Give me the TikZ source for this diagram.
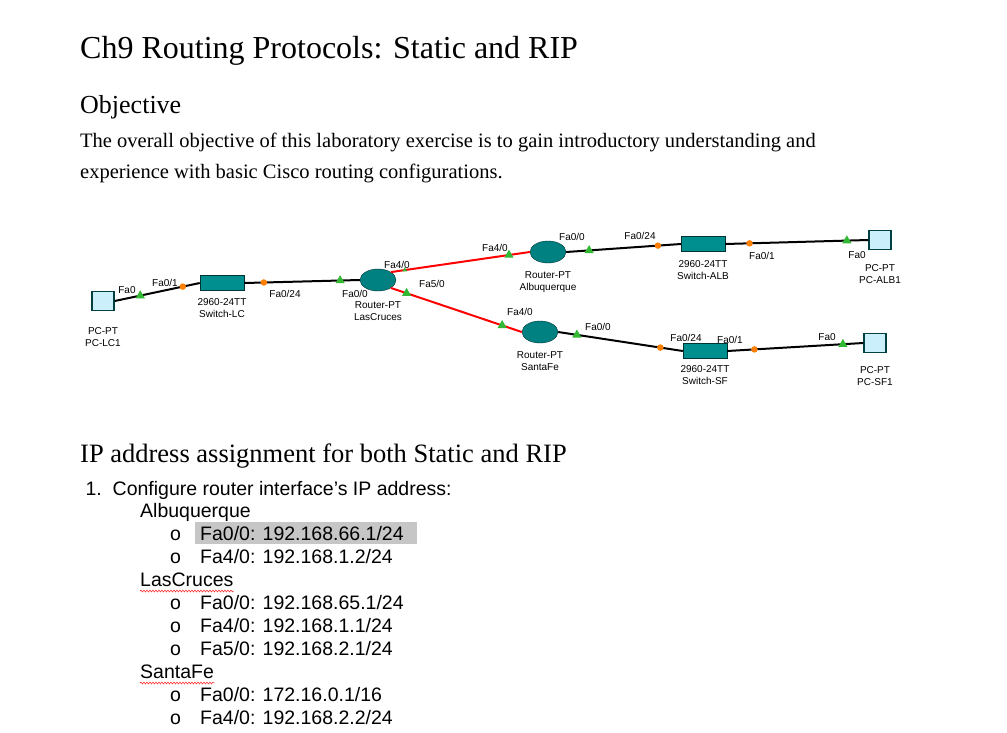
\documentclass[tikz,border=0pt]{standalone}
\usepackage{fontspec}
\setmainfont{Liberation Serif}
\setsansfont{Liberation Sans}
\usetikzlibrary{decorations.pathmorphing,shapes.geometric}
\begin{document}
\begin{tikzpicture}[x=1pt,y=-1pt,
  lbl/.style={font=\sffamily\fontsize{10}{10}\selectfont, inner sep=0},
  dev/.style={font=\sffamily\fontsize{10}{12}\selectfont, align=center, inner sep=0},
  router/.style={ellipse, minimum width=36pt, minimum height=22pt, fill=teal!55!cyan!70!black, draw=teal!40!black, inner sep=0},
  switch/.style={rectangle, minimum width=44pt, minimum height=15pt, fill=teal!50!cyan!75!black, draw=teal!40!black, inner sep=0},
  pc/.style={rectangle, minimum width=22pt, minimum height=19pt, fill=cyan!20!white, draw=teal!50!black, line width=1.4pt, inner sep=0},
  cable/.style={line width=2pt, black},
  xcable/.style={line width=2pt, red},
  up/.style={isosceles triangle, shape border rotate=90, isosceles triangle apex angle=60, fill=green!65!black!80, minimum size=8pt, inner sep=0},
  dot/.style={circle, fill=orange, minimum size=6.5pt, inner sep=0},
  body/.style={font=\fontsize{20.5}{22}\selectfont, anchor=base west, inner sep=0},
  list/.style={font=\sffamily\fontsize{19.5}{22}\selectfont, anchor=base west, inner sep=0}]
\useasboundingbox (0,0) rectangle (1007,732);
\fill[white] (0,0) rectangle (1007,732);
% headings
\node[anchor=base west, inner sep=0, font=\fontsize{32}{34}\selectfont] (t) at (80,58) {Ch9 Routing Protocols: Static and RIP};
\node[anchor=base west, inner sep=0, font=\fontsize{26}{28}\selectfont] (obj) at (80,113) {Objective};
\node[body] (b1) at (80,147) {The overall objective of this laboratory exercise is to gain introductory understanding and};
\node[body] (b2) at (80,178) {experience with basic Cisco routing configurations.};
\node[anchor=base west, inner sep=0, font=\fontsize{26.5}{28}\selectfont] (ip) at (80,462) {IP address assignment for both Static and RIP};
% list
\fill[gray!45] (195,522) rectangle (417,544);
\node[list] (l1) at (80,495) {\ 1.\ \ Configure router interface's IP address:};
\node[list] (alb) at (140,517) {Albuquerque};
\foreach \y/\t in {540/{Fa0/0: 192.168.66.1/24},563/{Fa4/0: 192.168.1.2/24},609/{Fa0/0: 192.168.65.1/24},632/{Fa4/0: 192.168.1.1/24},655/{Fa5/0: 192.168.2.1/24},701/{Fa0/0: 172.16.0.1/16},724/{Fa4/0: 192.168.2.2/24}}{
  \node[list] at (170,\y) {o};
  \node[list] at (200,\y) {\t};}
\node[list] (lc) at (140,586) {LasCruces};
\node[list] (sf) at (140,678) {SantaFe};
\draw[red, decorate, decoration={snake, amplitude=1pt, segment length=3pt}] (140,591) -- (234,591);
\draw[red, decorate, decoration={snake, amplitude=1pt, segment length=3pt}] (140,683) -- (215,683);
% devices
\node[pc] (pclc) at (103,301) {};
\node[switch] (swlc) at (222,283) {};
\node[router] (rlc) at (378,280) {};
\node[router] (ralb) at (548,252) {};
\node[switch] (swalb) at (703,244) {};
\node[pc] (pcalb) at (880,240) {};
\node[router] (rsf) at (540,332) {};
\node[switch] (swsf) at (705,351) {};
\node[pc] (pcsf) at (875,343) {};
% device labels
\node[dev] at (103,337) {PC-PT\\PC-LC1};
\node[dev] at (222,308) {2960-24TT\\Switch-LC};
\node[dev] at (378,311) {Router-PT\\LasCruces};
\node[dev] at (548,282) {Router-PT\\Albuquerque};
\node[dev] at (703,270) {2960-24TT\\Switch-ALB};
\node[dev] at (880,274) {PC-PT\\PC-ALB1};
\node[dev] at (540,361) {Router-PT\\SantaFe};
\node[dev] at (705,375) {2960-24TT\\Switch-SF};
\node[dev] at (875,376) {PC-PT\\PC-SF1};
% links
\draw[cable] (pclc.east) -- node[pos=0.3,up]{} node[pos=0.8,dot]{} (swlc.west);
\draw[cable] (swlc.east) -- node[pos=0.17,dot]{} node[pos=0.83,up]{} (rlc.west);
\draw[xcable] (rlc.north east) -- node[pos=0.1,up,minimum size=4pt]{} node[pos=0.85,up]{} (ralb.west);
\draw[xcable] (rlc.south east) -- node[pos=0.12,up]{} node[pos=0.85,up]{} (rsf.west);
\draw[cable] (ralb.east) -- node[pos=0.2,up]{} node[pos=0.8,dot]{} (swalb.west);
\draw[cable] (swalb.east) -- node[pos=0.17,dot]{} node[pos=0.85,up]{} (pcalb.west);
\draw[cable] (rsf.east) -- node[pos=0.15,up]{} node[pos=0.82,dot]{} (swsf.west);
\draw[cable] (swsf.east) -- node[pos=0.2,dot]{} node[pos=0.85,up]{} (pcsf.west);
% port labels
\node[lbl] at (127,290) {Fa0};
\node[lbl] at (165,283) {Fa0/1};
\node[lbl] at (285,294) {Fa0/24};
\node[lbl] at (355,294) {Fa0/0};
\node[lbl] at (397,265) {Fa4/0};
\node[lbl] at (432,284) {Fa5/0};
\node[lbl] at (495,248) {Fa4/0};
\node[lbl] at (520,312) {Fa4/0};
\node[lbl] at (572,237) {Fa0/0};
\node[lbl] at (640,236) {Fa0/24};
\node[lbl] at (762,256) {Fa0/1};
\node[lbl] at (857,255) {Fa0};
\node[lbl] at (598,327) {Fa0/0};
\node[lbl] at (686,338) {Fa0/24};
\node[lbl] at (730,340) {Fa0/1};
\node[lbl] at (827,337) {Fa0};
\end{tikzpicture}
\end{document}
